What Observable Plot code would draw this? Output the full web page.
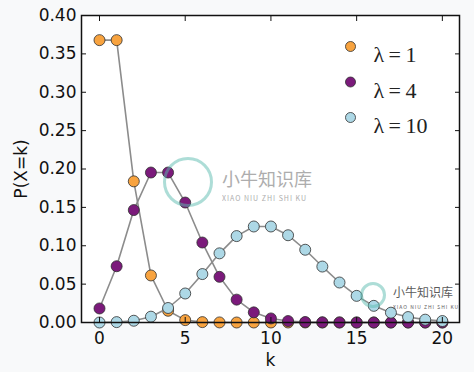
<!DOCTYPE html>
<html><head><meta charset="utf-8">
<script src="https://cdn.jsdelivr.net/npm/d3@7"></script>
<script src="https://cdn.jsdelivr.net/npm/@observablehq/plot@0.6"></script>
<style>
body{margin:0;background:#f8f9fa;}
#wrap{position:relative;width:474px;height:372px;overflow:hidden;}
.ring{position:absolute;border-radius:50%;border-style:solid;border-color:#5bbcb0;opacity:0.5;box-sizing:border-box;}
.wt{position:absolute;font-family:"Noto Sans CJK SC",sans-serif;white-space:nowrap;line-height:1;}
</style></head><body><div id="wrap"></div>
<script>
const k = [0,1,2,3,4,5,6,7,8,9,10,11,12,13,14,15,16,17,18,19,20];
const p1 = [0.3679,0.3679,0.1839,0.0613,0.0153,0.0031,0.0005,0.0001,0.0000,0.0000,0.0000,0.0000,0.0000,0.0000,0.0000,0.0000,0.0000,0.0000,0.0000,0.0000,0.0000];
const p4 = [0.0183,0.0733,0.1465,0.1954,0.1954,0.1563,0.1042,0.0595,0.0298,0.0132,0.0053,0.0019,0.0006,0.0002,0.0001,0.0000,0.0000,0.0000,0.0000,0.0000,0.0000];
const p10 = [0.0000,0.0005,0.0023,0.0076,0.0189,0.0378,0.0631,0.0901,0.1126,0.1251,0.1251,0.1137,0.0948,0.0729,0.0521,0.0347,0.0217,0.0128,0.0071,0.0037,0.0019];
const labels = ["λ\u2009=\u20091","λ\u2009=\u20094","λ\u2009=\u200910"];
const colors = ["#f8a33f","#7b1a7b","#add8e6"];
const xTicks = [0,5,10,15,20];
const yTicks = [0,0.05,0.10,0.15,0.20,0.25,0.30,0.35,0.40];

const series = [p1,p4,p10].map((p,i)=>({label:labels[i], color:colors[i], rows:k.map((kk,j)=>({k:kk,p:p[j]}))}));

const marks = [Plot.frame({fill:"white", stroke:"none"})];
series.forEach(s=>{
  marks.push(Plot.line(s.rows,{x:"k",y:"p",stroke:"#8c8c8c",strokeWidth:1.6}));
  marks.push(Plot.dot(s.rows,{x:"k",y:"p",r:5.5,fill:s.color,stroke:"#2e2e2e",strokeWidth:0.8}));
});
series.forEach((s,i)=>{
  marks.push(Plot.dot([s],{frameAnchor:"top-right",dx:-109,dy:31+i*35.5,r:5,fill:s.color,stroke:"#2e2e2e",strokeWidth:0.8}));
  marks.push(Plot.text([s],{text:"label",frameAnchor:"top-right",dx:-86,dy:31+i*35.5,textAnchor:"start",fontFamily:"'Liberation Serif', serif",fontSize:22,fill:"#222"}));
});
const axisFont = {fontSize:17, fontFamily:"'DejaVu Sans', sans-serif"};
marks.push(Plot.axisX({ticks:xTicks,tickSize:-5,tickPadding:14,label:"k",labelAnchor:"center",labelArrow:"none",labelOffset:43,...axisFont}));
marks.push(Plot.axisX({anchor:"top",ticks:xTicks,tickSize:-5,tickFormat:()=>"",label:null}));
marks.push(Plot.axisY({ticks:yTicks,tickSize:-5,tickPadding:10,tickFormat:d3.format(".2f"),label:"P(X=k)",labelAnchor:"center",labelArrow:"none",labelOffset:67,...axisFont}));
marks.push(Plot.axisY({anchor:"right",ticks:yTicks,tickSize:-5,tickFormat:()=>"",label:null}));
marks.push(Plot.frame({stroke:"#111",strokeWidth:1.5}));

const chart = Plot.plot({
  width:474, height:372,
  marginLeft:81, marginRight:15, marginTop:15, marginBottom:50,
  style:{background:"#f8f9fa", color:"#111", fontFamily:"'DejaVu Sans', sans-serif"},
  x:{domain:[-1.05,21]},
  y:{domain:[0,0.4]},
  marks
});
const wrap = document.getElementById("wrap");
wrap.appendChild(chart);

// watermarks
function wm(cx,cy,r,bw,fs,fs2,tx,col,o){
  const ring=document.createElement("div");ring.className="ring";
  Object.assign(ring.style,{left:(cx-r)+"px",top:(cy-r)+"px",width:2*r+"px",height:2*r+"px",borderWidth:bw+"px"});
  wrap.appendChild(ring);
  const t=document.createElement("div");t.className="wt";t.textContent="小牛知识库";
  Object.assign(t.style,{left:tx+"px",top:(cy-fs*0.72)+"px",fontSize:fs+"px",color:col,opacity:o});
  wrap.appendChild(t);
  const t2=document.createElement("div");t2.className="wt";t2.textContent="XIAO NIU ZHI SHI KU";
  Object.assign(t2.style,{left:tx+"px",top:(cy+fs*0.72)+"px",fontSize:fs2+"px",color:col,opacity:o,letterSpacing:"1px"});
  wrap.appendChild(t2);
}
wm(188,182,25,3,18,7,222,"#999",0.8);
wm(373,295,13,3,12,5,393,"#333",0.8);
</script></body></html>
